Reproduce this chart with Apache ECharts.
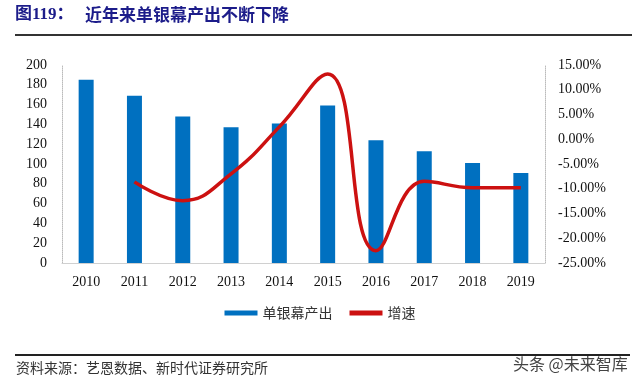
<!DOCTYPE html>
<html><head><meta charset="utf-8">
<script src="https://cdn.jsdelivr.net/npm/echarts@6/dist/echarts.min.js"></script>
<style>html,body{margin:0;padding:0;background:#fff}#c{width:640px;height:384px}</style>
</head><body><div id="c"></div>
<script>
const categories = ['2010','2011','2012','2013','2014','2015','2016','2017','2018','2019'];
const outputValues = [185, 169, 148, 137, 141, 159, 124, 113, 101, 91];
const growthValues = [null, -8.6, -12.4, -7.0, 2.5, 13.2, -22.5, -8.5, -9.8, -9.8];
const leftTicks = {min: 0, max: 200, interval: 20};
const rightTicks = {min: -25, max: 15, interval: 5};

const chart = echarts.init(document.getElementById('c'));
const serif = '"Liberation Serif","Times New Roman",serif';
chart.setOption({
  animation: false,
  backgroundColor: '#fff',
  grid: {left: 62, right: 95, top: 65, bottom: 121, containLabel: false},
  legend: {
    top: 301, left: 'center',
    itemWidth: 33, itemHeight: 5, itemGap: 17,
    textStyle: {fontFamily: '"Noto Sans CJK SC"', fontSize: 14, color: '#333'},
    data: [{name: '单银幕产出', icon: 'rect'}, {name: '增速', icon: 'rect'}]
  },
  xAxis: {
    type: 'category', data: categories,
    axisLine: {lineStyle: {color: '#d0d0d0'}},
    axisTick: {show: false},
    axisLabel: {fontFamily: serif, fontSize: 14, color: '#111', margin: 12}
  },
  yAxis: [{
    type: 'value', min: leftTicks.min, max: leftTicks.max, interval: leftTicks.interval,
    axisLine: {show: true, lineStyle: {color: '#bbb', type: 'dotted'}},
    axisTick: {show: false}, splitLine: {show: false},
    axisLabel: {fontFamily: serif, fontSize: 14, color: '#111', margin: 15}
  }, {
    type: 'value', min: rightTicks.min, max: rightTicks.max, interval: rightTicks.interval,
    axisLine: {show: true, lineStyle: {color: '#bbb', type: 'dotted'}},
    axisTick: {show: false}, splitLine: {show: false},
    axisLabel: {fontFamily: serif, fontSize: 14, color: '#111', margin: 13,
      formatter: v => v.toFixed(2) + '%'}
  }],
  series: [{
    name: '单银幕产出', type: 'bar', data: outputValues, barWidth: 15,
    itemStyle: {color: '#0070c0'}
  }, {
    name: '增速', type: 'line', yAxisIndex: 1, data: growthValues,
    smooth: 0.45, showSymbol: false, symbol: 'none',
    lineStyle: {color: '#cc1111', width: 3.5},
    itemStyle: {color: '#cc1111'}
  }],
  graphic: [
    {type: 'text', left: 15, top: 6, style: {text: '图119：', fontFamily: '"Liberation Serif","Noto Sans CJK SC"', fontWeight: 'bold', fontSize: 17, fill: '#1c1c8a'}},
    {type: 'text', left: 85, top: 6, style: {text: '近年来单银幕产出不断下降', fontFamily: '"Noto Sans CJK SC"', fontWeight: 'bold', fontSize: 17, fill: '#1c1c8a'}},
    {type: 'rect', shape: {x: 15, y: 34, width: 617, height: 2}, style: {fill: '#333'}},
    {type: 'rect', shape: {x: 15, y: 354, width: 615, height: 2}, style: {fill: '#222'}},
    {type: 'text', left: 16, top: 361, style: {text: '资料来源：艺恩数据、新时代证券研究所', fontFamily: '"Noto Sans CJK SC"', fontSize: 14, fill: '#333'}},
    {type: 'text', left: 513, top: 356, style: {text: '头条 @未来智库', fontFamily: '"Noto Sans CJK SC"', fontSize: 16, fill: '#444'}}
  ]
});
</script></body></html>
